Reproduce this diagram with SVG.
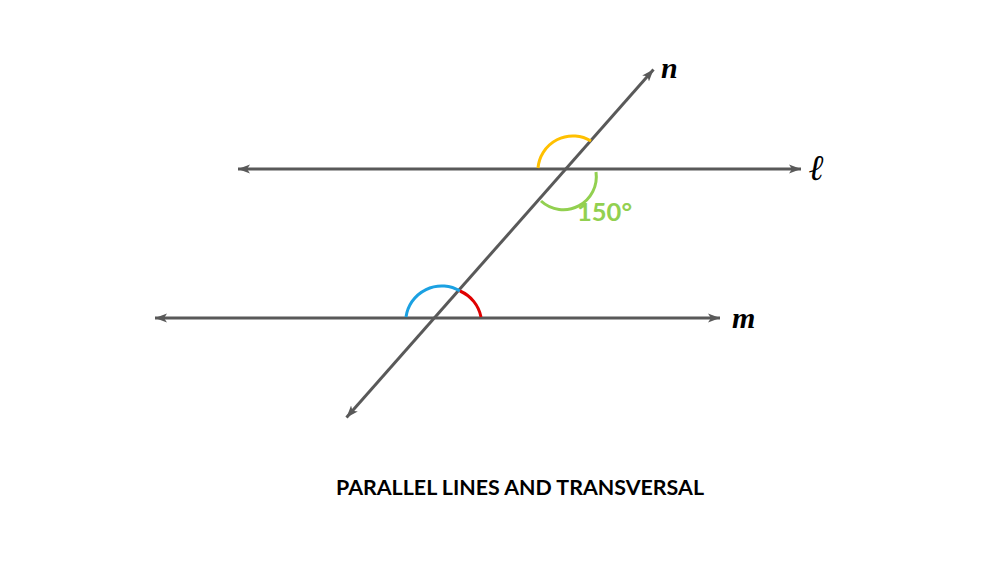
<svg xmlns="http://www.w3.org/2000/svg" width="1000" height="562" viewBox="0 0 1000 562">
<defs>
<marker id="ah" viewBox="0 0 12 10" refX="12" refY="5" markerWidth="12" markerHeight="10" markerUnits="userSpaceOnUse" orient="auto-start-reverse">
<path d="M0,0.5 L12,5 L0,9.5 L3,5 Z" fill="#595959"/>
</marker>
<style>
.ln{stroke:#595959;stroke-width:3;fill:none}
.arc{fill:none;stroke-width:3}
</style>
</defs>
<rect width="1000" height="562" fill="#fff"/>
<g id="connectors">
<line class="ln" x1="238" y1="169" x2="801" y2="169" marker-start="url(#ah)" marker-end="url(#ah)"/>
<line class="ln" x1="155" y1="318" x2="720" y2="318" marker-start="url(#ah)" marker-end="url(#ah)"/>
<line class="ln" x1="346.5" y1="417.5" x2="653.5" y2="69.5" marker-start="url(#ah)" marker-end="url(#ah)"/>
</g>
<g id="angles">
<path class="arc" stroke="#FFC000" d="M538,168 A35,35 0 0 1 591,141"/>
<path class="arc" stroke="#92D050" d="M596,172 A33,33 0 0 1 541,201"/>
<path class="arc" stroke="#1BA1E2" d="M406,317 A36,36 0 0 1 460,291"/>
<path class="arc" stroke="#E00000" d="M460,291 A36,36 0 0 1 481,317"/>
</g>
<g id="label-n"><text x="661" y="78" font-family="Liberation Serif, DejaVu Serif, serif" font-style="italic" font-weight="bold" font-size="30" fill="#000">n</text></g>
<g id="label-l"><text x="809" y="180" font-family="DejaVu Serif, serif" font-style="italic" font-weight="bold" font-size="36" fill="#000">ℓ</text></g>
<g id="label-m"><text x="732" y="328" font-family="Liberation Serif, DejaVu Serif, serif" font-style="italic" font-weight="bold" font-size="30" fill="#000">m</text></g>
<g id="label-150"><text x="577" y="221" font-family="Lato, Liberation Sans, sans-serif" font-weight="bold" font-size="24" fill="#92D050" textLength="55" lengthAdjust="spacingAndGlyphs">150°</text></g>
<g id="title"><text x="336" y="495" font-family="Lato, Liberation Sans, sans-serif" font-weight="bold" font-size="21" fill="#000" textLength="368" lengthAdjust="spacingAndGlyphs">PARALLEL LINES AND TRANSVERSAL</text></g>
</svg>
